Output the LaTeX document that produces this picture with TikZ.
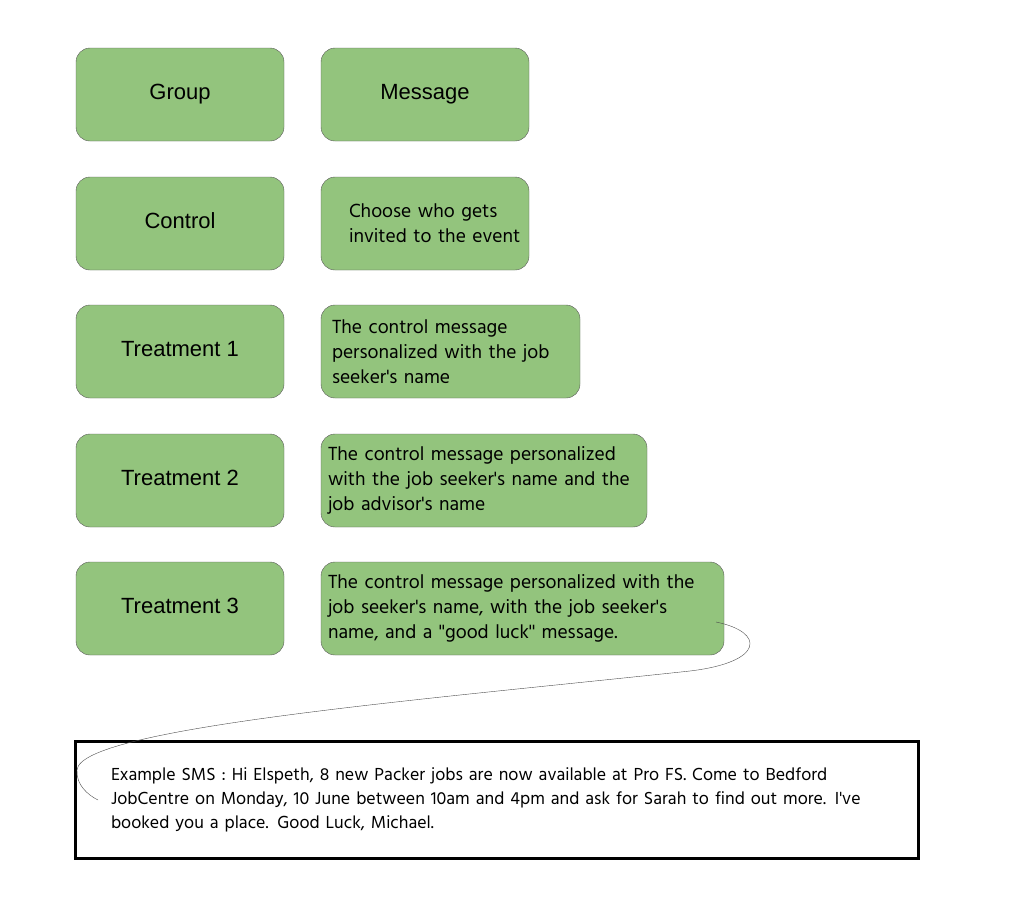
\documentclass[tikz,border=0pt]{standalone}
\usepackage{fontspec}
\setmainfont{Liberation Sans}
\newfontfamily\msgfont{Hind Siliguri}
\definecolor{boxgreen}{HTML}{93C47D}

\begin{document}
\begin{tikzpicture}[x=1pt,y=-1pt,
  box/.style={draw=black!65,fill=boxgreen,rounded corners=14pt,minimum height=93pt,inner ysep=0pt},
  grp/.style={box,minimum width=208pt,text depth=6pt,font=\fontsize{22}{25}\selectfont},
  msg/.style={box,align=left,font=\msgfont\fontsize{19.5}{25}\selectfont}]
  \useasboundingbox (0,0) rectangle (1026,908);

  \node [grp] (g) at (180,94.5) {Group};
  \node [grp] (m) at (425,94.5) {Message};

  \node [grp] (c) at (180,223.5) {Control};
  \node [msg,text width=152pt,inner xsep=28pt] (cm) at (425,223.5)
    {\mbox{Choose who gets}\\\mbox{invited to the event}};

  \node [grp] (t1) at (180,351.5) {Treatment 1};
  \node [msg,text width=237pt,inner xsep=11pt] (t1m) at (450.5,351.5)
    {The control message\\personalized with the job\\seeker's name};

  \node [grp] (t2) at (180,480.5) {Treatment 2};
  \node [msg,text width=312pt,inner xsep=7pt] (t2m) at (484,480.5)
    {The control message personalized\\with the job seeker's name and the\\job advisor's name};

  \node [grp] (t3) at (180,608.5) {Treatment 3};
  \node [msg,text width=389pt,inner xsep=7pt] (t3m) at (522.5,608.5)
    {The control message personalized with the\\job seeker's name, with the job seeker's\\name, and a ''good luck'' message.};

  \node [draw,line width=3pt,minimum height=117pt,text width=771pt,inner xsep=36pt,inner ysep=0pt,
    align=left,font=\msgfont\fontsize{17.9}{24}\selectfont] (sms) at (496.5,799.5)
    {Example SMS : Hi Elspeth, 8 new Packer jobs are now available at Pro FS. Come to Bedford\\
     JobCentre on Monday, 10 June between 10am and 4pm and ask for Sarah to find out more. I've\\
     booked you a place. Good Luck, Michael.};

  % link from treatment 3 to the example
  \coordinate (s) at (716,622);
  \coordinate (e) at (98,800);
  \draw [black!70,thin] (s) .. controls (765,632) and (765,662) .. (690,671)
    .. controls (420,700) and (80,728) .. (77,770)
    .. controls (76,785) and (88,795) .. (e);
\end{tikzpicture}
\end{document}
